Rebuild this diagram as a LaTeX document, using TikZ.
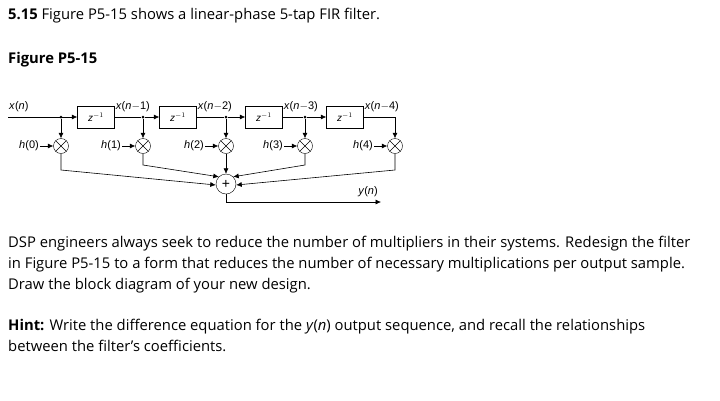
\documentclass[tikz,border=0pt]{standalone}
\usepackage{fontspec}
\setmainfont{Open Sans}
\newfontfamily\dfont{Liberation Sans}
\usetikzlibrary{arrows.meta}
\begin{document}
\begin{tikzpicture}[x=1pt,y=-1pt,
  txt/.style={anchor=west,inner sep=0pt,font=\fontsize{14.8}{21}\selectfont},
  dl/.style={inner sep=1pt,font=\dfont\fontsize{11}{12}\selectfont},
  zbox/.style={draw,minimum width=37pt,minimum height=22pt,inner sep=0pt,font=\dfont\fontsize{10}{10}\selectfont},
  mult/.style={draw,circle,minimum size=15pt,inner sep=0pt},
  arr/.style={-{Latex[length=5.5pt,width=5pt]},line width=0.6pt},
  ln/.style={line width=0.6pt},
  dot/.style={circle,fill,inner sep=0pt,minimum size=3pt}]
\useasboundingbox (0,0) rectangle (720,400);
\node[txt] (t1) at (8,16) {\textbf{5.15} Figure P5-15 shows a linear-phase 5-tap FIR filter.};
\node[txt] (t2) at (8,60) {\textbf{Figure P5-15}};
\node[txt,align=left,anchor=north west] (t3) at (8,236) {DSP engineers always seek to reduce the number of multipliers in their systems. Redesign the filter\\in Figure P5-15 to a form that reduces the number of necessary multiplications per output sample.\\Draw the block diagram of your new design.};
\node[txt,align=left,anchor=north west] (t4) at (8,319) {\textbf{Hint:} Write the difference equation for the \textit{y}(\textit{n}) output sequence, and recall the relationships\\between the filter's coefficients.};
% diagram
\coordinate (in) at (8,117);
\node[dl,anchor=south west] (lx) at (8,113) {\textit{x}(\textit{n})};
\foreach \i/\x in {0/61,1/143,2/226,3/305}{
  \node[dot] (d\i) at (\x,117) {};
}
\coordinate (d4) at (395,117);
\foreach \i/\x in {1/96,2/178,3/264,4/345}{
  \node[zbox] (z\i) at (\x,117) {\textit{z}$^{-1}$};
}
\foreach \i/\x in {0/61,1/143,2/226,3/305,4/395}{
  \node[mult] (m\i) at (\x,146) {};
  \draw[ln] (m\i.north west)--(m\i.south east) (m\i.north east)--(m\i.south west);
  \draw[arr] (d\i) -- (m\i);
  \node[dl,anchor=east] (h\i) at (\x-21,146) {\textit{h}(\i)};
  \draw[arr] (h\i.east) -- (m\i.west);
}
\foreach \i/\t in {1/1,2/2,3/3,4/4}{
  \node[dl,anchor=south west] (lx\i) at ([xshift=0pt]z\i.east |- 0,113) {\textit{x}(\textit{n}$-$\t)};
}
\draw[arr] (in) -- (z1.west);
\draw[ln] (z1.east) -- (d1); \draw[arr] (d1) -- (z2.west);
\draw[ln] (z2.east) -- (d2); \draw[arr] (d2) -- (z3.west);
\draw[ln] (z3.east) -- (d3); \draw[arr] (d3) -- (z4.west);
\draw[ln] (z4.east) -- (d4);
\node[draw,circle,minimum size=20pt,inner sep=0pt,font=\dfont\fontsize{14}{14}\selectfont] (add) at (226,184) {+};
\coordinate (c0) at (61,170); \coordinate (c1) at (143,165);
\coordinate (c3) at (305,165); \coordinate (c4) at (395,170);
\draw[arr] (m0) -- (c0) -- ([yshift=-1pt]add.west);
\draw[arr] (m1) -- (c1) -- (add.north west);
\draw[arr] (m2) -- (add);
\draw[arr] (m3) -- (c3) -- (add.north east);
\draw[arr] (m4) -- (c4) -- ([yshift=-1pt]add.east);
\coordinate (out) at (381,202);
\draw[arr] (add) |- (out);
\node[dl,anchor=south] (ly) at (368,198) {\textit{y}(\textit{n})};
\end{tikzpicture}
\end{document}
